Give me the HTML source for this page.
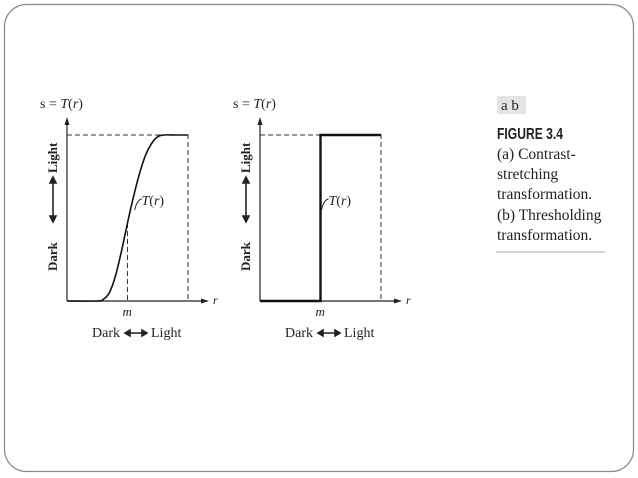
<!DOCTYPE html>
<html><head><meta charset="utf-8"><style>
html,body{margin:0;padding:0;background:#fff}
svg{display:block}
text{font-family:"Liberation Serif",serif;fill:#222}
</style></head><body>
<svg width="638" height="478" viewBox="0 0 638 478">
<rect x="4.5" y="4.5" width="629" height="467" rx="22" fill="#fff" stroke="#8a8a8a" stroke-width="1.2"/>
<g id="charts"></g>
<g>
<rect x="497" y="96" width="29" height="18" fill="#e4e4e4"/>
<text x="501" y="110" font-size="15">a  b</text>
<text x="497" y="139" font-size="16" font-weight="bold" style="font-family:'Liberation Sans Narrow','Liberation Sans',sans-serif" textLength="66" lengthAdjust="spacingAndGlyphs">FIGURE 3.4</text>
<text x="497" y="159" font-size="15.5">(a) Contrast-</text>
<text x="497" y="179" font-size="15.5">stretching</text>
<text x="497" y="199" font-size="15.5">transformation.</text>
<text x="497" y="220" font-size="15.5">(b) Thresholding</text>
<text x="497" y="240" font-size="15.5">transformation.</text>
<line x1="496" y1="252" x2="605" y2="252" stroke="#bbb" stroke-width="1.2"/>
</g>
</svg>
<script>
// contrast-stretching curve (r, s in 0..1)
const curveR=[0,0.25,0.3,0.35,0.4,0.45,0.5,0.55,0.6,0.65,0.7,0.75,0.8,0.9,1];
const curveS=[0,0,0.01,0.05,0.15,0.3,0.47,0.63,0.77,0.88,0.95,0.99,1,1,1];
// thresholding
const threshR=[0,0.5,0.5,1];
const threshS=[0,0,1,1];
const mValue=0.5;
const mLevel=0.47;
const NS="http://www.w3.org/2000/svg";
const root=document.getElementById('charts');
function mk(tag,attrs,parent){const e=document.createElementNS(NS,tag);for(const k in attrs)e.setAttribute(k,attrs[k]);(parent||root).appendChild(e);return e;}
function panel(ox,name,R,S,thick){
  const g=mk('g',{});
  
  
  const W=121,H=166,oy=301;
  const xs=v=>ox+v*W, ys=v=>oy-v*H;
  const ya=mk('path',{d:`M${ox} ${oy} V${oy-181}`,stroke:'#222','stroke-width':1.2,fill:'none'},g);
  
  const yh=mk('path',{d:`M${ox-2.5} ${oy-176} L${ox} ${oy-184} L${ox+2.5} ${oy-176}Z`,fill:'#222'},g);
  
  const xa=mk('path',{d:`M${ox} ${oy} H${ox+138}`,stroke:'#222','stroke-width':1.2,fill:'none'},g);
  
  const xh=mk('path',{d:`M${ox+134} ${oy-2.5} L${ox+142} ${oy} L${ox+134} ${oy+2.5}Z`,fill:'#222'},g);
  
  const d1=mk('path',{d:`M${ox} ${ys(1)} H${xs(1)} V${oy}`,stroke:'#333','stroke-width':1,fill:'none','stroke-dasharray':'5,3'},g);
  
  if(!thick){const d2=mk('path',{d:`M${xs(mValue)} ${ys(mLevel)} V${oy}`,stroke:'#333','stroke-width':1,fill:'none','stroke-dasharray':'5,3'},g);
  }
  let d='';R.forEach((r,i)=>{d+=(i?'L':'M')+xs(r).toFixed(1)+' '+ys(S[i]).toFixed(1)+' ';});
  const c=mk('path',{d:thick?d:smooth(R.map(xs),S.map(ys)),stroke:'#111','stroke-width':thick?2.4:1.6,fill:'none'},g);
  
  const t=(x,y,s,txt,n,extra)=>{const e=mk('text',Object.assign({x,y,'font-size':s},extra||{}),g);e.textContent=txt;return e;};
  const yt=t(ox-27,108,14,'','y-axis-title');yt.innerHTML='s = <tspan font-style="italic">T</tspan>(<tspan font-style="italic">r</tspan>)';
  t(ox+146,304,12,'r','x-axis-var',{'font-style':'italic'});
  t(xs(mValue)-5,316,13,'m','m-label',{'font-style':'italic'});
  const tl=t(xs(mValue)+(thick?8:14),205,14,'','curve-label');tl.innerHTML='<tspan font-style="italic">T</tspan>(<tspan font-style="italic">r</tspan>)';
  const bx=thick?xs(mValue)+1:xs(0.56);
  const lp=mk('path',{d:`M${bx} 210 Q${bx+2} 200 ${bx+(thick?7:7)} 199`,stroke:'#222','stroke-width':1,fill:'none'},g);
  
  t(ox+25,337,14,'Dark','x-dark-label');
  const ar=mk('path',{d:`M${ox+58} 333 H${ox+80} M${ox+58} 333 l5 -3 v6z M${ox+80} 333 l-5 -3 v6z`,stroke:'#222','stroke-width':1.6,fill:'#222'},g);
  
  t(ox+84,337,14,'Light','x-light-label');
  t(0,0,13,'Light','y-light-label',{transform:`translate(${ox-10} 173) rotate(-90)`,'font-weight':'bold'});
  t(0,0,13,'Dark','y-dark-label',{transform:`translate(${ox-10} 271) rotate(-90)`,'font-weight':'bold'});
  const va=mk('path',{d:`M${ox-14} 177 V222 M${ox-14} 177 l-3 6 h6z M${ox-14} 222 l-3 -6 h6z`,stroke:'#222','stroke-width':1.6,fill:'#222'},g);
  
}
function smooth(X,Y){let d=`M${X[0]} ${Y[0]}`;for(let i=0;i<X.length-1;i++){const x0=X[Math.max(i-1,0)],y0=Y[Math.max(i-1,0)],x3=X[Math.min(i+2,X.length-1)],y3=Y[Math.min(i+2,X.length-1)];
d+=` C${(X[i]+(X[i+1]-x0)/6).toFixed(1)} ${(Y[i]+(Y[i+1]-y0)/6).toFixed(1)} ${(X[i+1]-(x3-X[i])/6).toFixed(1)} ${(Y[i+1]-(y3-Y[i])/6).toFixed(1)} ${X[i+1].toFixed(1)} ${Y[i+1].toFixed(1)}`;}return d;}
panel(67,'contrast-stretching-plot',curveR,curveS,false);
panel(260,'thresholding-plot',threshR,threshS,true);
</script>
</body></html>
